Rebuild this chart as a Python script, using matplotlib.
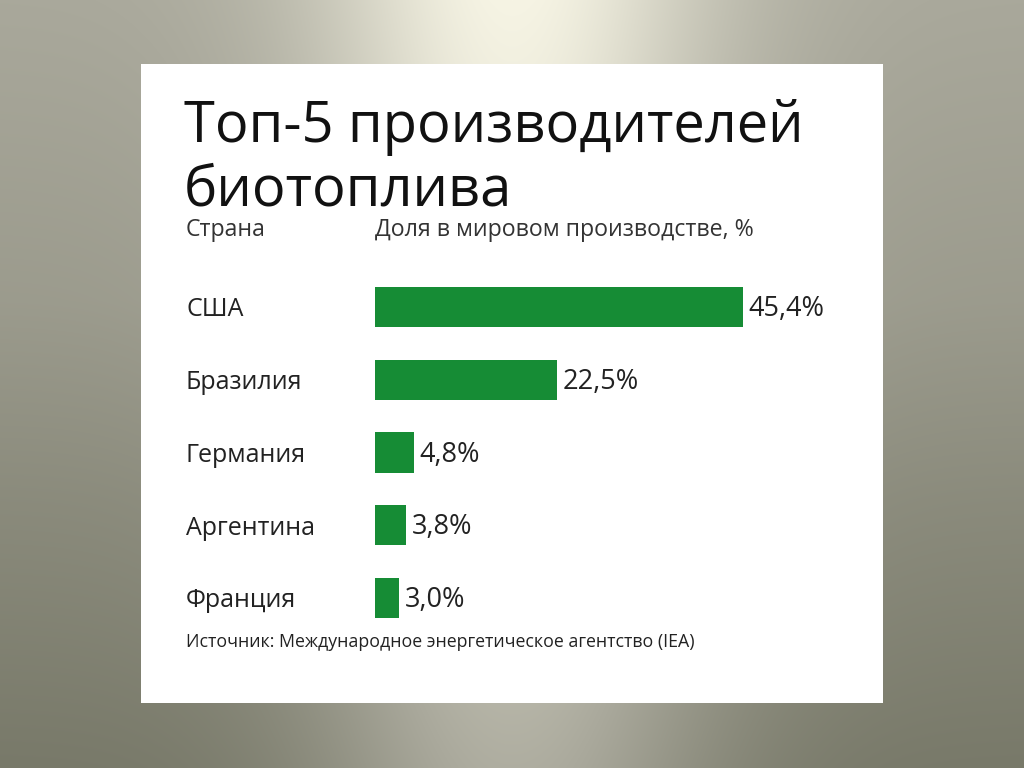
import numpy as np
import matplotlib
matplotlib.use('Agg')
import matplotlib.pyplot as plt
from matplotlib.patches import Rectangle
import matplotlib.transforms as mtransforms

plt.rcParams['font.family'] = ['Open Sans', 'DejaVu Sans']

# данные
countries = ['США', 'Бразилия', 'Германия', 'Аргентина', 'Франция']
shares = [45.4, 22.5, 4.8, 3.8, 3.0]
value_labels = ['45,4%', '22,5%', '4,8%', '3,8%', '3,0%']

title_1 = 'Топ-5 производителей'
title_2 = 'биотоплива'
col_country = 'Страна'
col_share = 'Доля в мировом производстве, %'
source = 'Источник: Международное энергетическое агентство (IEA)'

W, H = 1024, 768
bar_color = '#168c35'

fig = plt.figure(figsize=(W / 100, H / 100), dpi=100)

# ── фон: светлый центр сверху, тёмные оливковые края ──
bg = fig.add_axes([0, 0, 1, 1])
bg.axis('off')
yy, xx = np.mgrid[0:H, 0:W]
fx = 169 + 77 * np.exp(-((xx - 512) / 200.0) ** 2)
fy = np.interp(yy, [0, 300, 500, 768], [1.0, 0.92, 0.82, 0.71])
v = fx * fy
tone_v = [110, 119, 170, 246]
tone_c = np.array([[110, 111, 96], [119, 120, 104], [170, 169, 156], [246, 244, 228]]) / 255
img = np.stack([np.interp(v, tone_v, tone_c[:, k]) for k in range(3)], axis=-1)
bg.imshow(img, extent=[0, W, H, 0], aspect='auto')
bg.set_xlim(0, W)
bg.set_ylim(H, 0)

# белая карточка
bg.add_patch(Rectangle((141, 64), 883 - 141, 703 - 64, facecolor='white',
                       edgecolor='none'))

def px(x, y):
    return x / W, 1 - y / H

# ── заголовок ──
fig.text(*px(184, 142), title_1, fontsize=40.3, color='#111111',
         ha='left', va='baseline')
fig.text(*px(184, 206), title_2, fontsize=40.3, color='#111111',
         ha='left', va='baseline')
fig.text(*px(186, 236), col_country, fontsize=16.7, color='#333333',
         ha='left', va='baseline')
fig.text(*px(375, 236), col_share, fontsize=16.7, color='#333333',
         ha='left', va='baseline')

# ── столбцы ──
top_px, bot_px = 270.6, 634.4
left_px, right_px = 375, 883
ax = fig.add_axes([left_px / W, 1 - bot_px / H, (right_px - left_px) / W,
                   (bot_px - top_px) / H])
ax.patch.set_alpha(0)
y = np.arange(len(countries))
ax.barh(y, shares, height=0.55, color=bar_color)
ax.set_xlim(0, (right_px - left_px) / 8.1)
ax.set_ylim(len(countries) - 0.5, -0.5)
ax.axis('off')

trans = mtransforms.blended_transform_factory(fig.transFigure, ax.transData)
for i, (c, val, lab) in enumerate(zip(countries, shares, value_labels)):
    ax.text(186 / W, i + 0.04, c, transform=trans, fontsize=18, color='#222222',
            ha='left', va='center')
    ax.text(val + 0.7, i + 0.03, lab, fontsize=19.5, color='#222222', ha='left',
            va='center')

fig.text(*px(186, 647), source, fontsize=12.8, color='#222222',
         ha='left', va='baseline')

fig.savefig('out.png', dpi=100)
